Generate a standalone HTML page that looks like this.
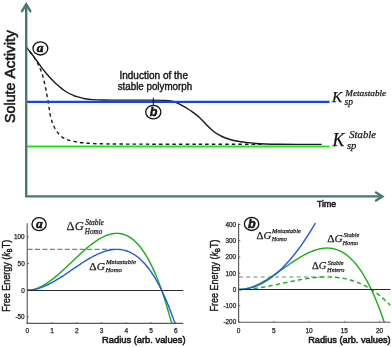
<!DOCTYPE html>
<html><head><meta charset="utf-8"><title>Solute activity and free energy</title>
<style>html,body{margin:0;padding:0;background:#fff;}svg{display:block;} text.h{stroke:#1a1a1a;stroke-width:.55px;} text.k{fill:#222;stroke:#222;stroke-width:.25px;} text.bb{stroke:#111;stroke-width:.5px;} text.y{stroke:#1a1a1a;stroke-width:.4px;} text.s{stroke:#1a1a1a;stroke-width:.25px;}</style></head>
<body>
<svg width="392" height="347" viewBox="0 0 392 347">
<rect width="392" height="347" fill="#fff"/>
<g fill="#111">
<path d="M26.70,47.60 C27.25,48.30 28.85,50.30 30.00,51.80 C31.15,53.30 32.52,55.07 33.60,56.60 C34.68,58.13 35.63,59.47 36.50,61.00 C37.37,62.53 38.08,64.27 38.80,65.80 C39.52,67.33 40.22,68.77 40.80,70.20 C41.38,71.63 41.82,72.85 42.30,74.40 C42.78,75.95 43.27,77.77 43.70,79.50 C44.13,81.23 44.52,83.05 44.90,84.80 C45.28,86.55 45.68,88.38 46.00,90.00 C46.32,91.62 46.50,93.00 46.80,94.50 C47.10,96.00 47.48,97.18 47.80,99.00 C48.12,100.82 48.42,103.47 48.70,105.40 C48.98,107.33 49.22,108.87 49.50,110.60 C49.78,112.33 50.05,114.15 50.40,115.80 C50.75,117.45 51.17,119.07 51.60,120.50 C52.03,121.93 52.43,123.07 53.00,124.40 C53.57,125.73 54.28,127.20 55.00,128.50 C55.72,129.80 56.50,131.12 57.30,132.20 C58.10,133.28 58.93,134.15 59.80,135.00 C60.67,135.85 61.50,136.63 62.50,137.30 C63.50,137.97 64.65,138.48 65.80,139.00 C66.95,139.52 68.12,140.00 69.40,140.40 C70.68,140.80 72.07,141.10 73.50,141.40 C74.93,141.70 76.42,141.97 78.00,142.20 C79.58,142.43 81.27,142.62 83.00,142.80 C84.73,142.98 85.57,143.13 88.40,143.30 C91.23,143.47 93.07,143.67 100.00,143.80 C106.93,143.93 113.33,144.02 130.00,144.10 C146.67,144.18 178.00,144.27 200.00,144.30 C222.00,144.33 251.67,144.30 262.00,144.30" fill="none" stroke="#1a1a1a" stroke-width="1.4" stroke-dasharray="3.5 3.1" stroke-dashoffset="-4.8"/>
<path d="M26.70,47.60 C27.25,48.30 28.85,50.33 30.00,51.80 C31.15,53.27 32.27,54.63 33.60,56.40 C34.93,58.17 36.55,60.42 38.00,62.40 C39.45,64.38 40.80,66.32 42.30,68.30 C43.80,70.28 45.55,72.55 47.00,74.30 C48.45,76.05 49.58,77.32 51.00,78.80 C52.42,80.28 54.07,81.87 55.50,83.20 C56.93,84.53 58.18,85.62 59.60,86.80 C61.02,87.98 62.55,89.27 64.00,90.30 C65.45,91.33 66.80,92.18 68.30,93.00 C69.80,93.82 71.55,94.58 73.00,95.20 C74.45,95.82 75.00,96.12 77.00,96.70 C79.00,97.28 82.33,98.22 85.00,98.70 C87.67,99.18 90.00,99.38 93.00,99.60 C96.00,99.82 99.33,99.92 103.00,100.00 C106.67,100.08 110.50,100.08 115.00,100.10 C119.50,100.12 124.17,100.10 130.00,100.10 C135.83,100.10 144.17,100.05 150.00,100.10 C155.83,100.15 161.33,100.22 165.00,100.40 C168.67,100.58 169.83,100.72 172.00,101.20 C174.17,101.68 176.13,102.47 178.00,103.30 C179.87,104.13 181.53,105.25 183.20,106.20 C184.87,107.15 186.53,108.10 188.00,109.00 C189.47,109.90 190.67,110.67 192.00,111.60 C193.33,112.53 194.67,113.53 196.00,114.60 C197.33,115.67 198.83,116.93 200.00,118.00 C201.17,119.07 201.92,119.87 203.00,121.00 C204.08,122.13 205.28,123.53 206.50,124.80 C207.72,126.07 209.05,127.43 210.30,128.60 C211.55,129.77 212.72,130.83 214.00,131.80 C215.28,132.77 216.67,133.62 218.00,134.40 C219.33,135.18 220.73,135.90 222.00,136.50 C223.27,137.10 224.27,137.50 225.60,138.00 C226.93,138.50 228.43,139.03 230.00,139.50 C231.57,139.97 233.17,140.42 235.00,140.80 C236.83,141.18 238.83,141.50 241.00,141.80 C243.17,142.10 245.50,142.32 248.00,142.60 C250.50,142.88 253.17,143.27 256.00,143.50 C258.83,143.73 261.00,143.87 265.00,144.00 C269.00,144.13 274.17,144.23 280.00,144.30 C285.83,144.37 293.07,144.38 300.00,144.40 C306.93,144.42 318.00,144.40 321.60,144.40" fill="none" stroke="#1a1a1a" stroke-width="1.4"/>
<line x1="27" y1="146.3" x2="329.5" y2="146.3" stroke="#0cf00c" stroke-width="1.7"/>
<line x1="27" y1="101.9" x2="329.5" y2="101.9" stroke="#1244f2" stroke-width="2.1"/>
<path d="M26.2,4.5 L26.2,196.4 L381,196.4" fill="none" stroke="#4a7676" stroke-width="2.4"/>
<path d="M22,11.2 L26.2,4.3 L30.4,11.2" fill="none" stroke="#4a7676" stroke-width="2.4" stroke-linejoin="miter" stroke-linecap="round"/>
<path d="M376,192.4 L382.4,196.4 L376,200.4" fill="none" stroke="#4a7676" stroke-width="2.4" stroke-linejoin="miter" stroke-linecap="round"/>
<ellipse cx="40.4" cy="48.4" rx="7.4" ry="6.6" fill="#fff" stroke="#111" stroke-width="1.3"/>
<text x="40.2" y="52.3" text-anchor="middle" class="bb" font-family="Liberation Serif" font-weight="bold" font-style="italic" font-size="13.5">a</text>
<line x1="153.3" y1="97.6" x2="153.3" y2="105.2" stroke="#111" stroke-width="1"/>
<ellipse cx="153.3" cy="112.1" rx="7.6" ry="6.8" fill="#fff" stroke="#111" stroke-width="1.3"/>
<text x="153.5" y="116.3" text-anchor="middle" class="bb" font-family="Liberation Sans" font-weight="bold" font-style="italic" font-size="12.5">b</text>
<text transform="translate(14.85,122.9) rotate(-90)" class="h" font-family="Liberation Sans" font-size="14.4" textLength="40.4" lengthAdjust="spacingAndGlyphs">Solute</text><text transform="translate(14.85,78.4) rotate(-90)" class="h" font-family="Liberation Sans" font-size="14.4" textLength="48.4" lengthAdjust="spacingAndGlyphs">Activity</text>
<text x="119.4" y="78.8" class="y" font-family="Liberation Sans" font-size="10.4" textLength="68.6" lengthAdjust="spacingAndGlyphs">Induction of the</text>
<text x="117.7" y="90.3" class="y" font-family="Liberation Sans" font-size="10.4" textLength="74.4" lengthAdjust="spacingAndGlyphs">stable polymorph</text>
<text x="317" y="206.5" class="h" font-family="Liberation Sans" font-size="8.8" textLength="19.1" lengthAdjust="spacingAndGlyphs">Time</text>
<text x="332" y="101.8" class="s" font-family="Liberation Serif" font-style="italic" font-size="15.5">K</text>
<text x="345.3" y="95.9" class="s" font-family="Liberation Serif" font-style="italic" font-size="9" textLength="40.9" lengthAdjust="spacingAndGlyphs">Metastable</text>
<text x="344.6" y="105" class="s" font-family="Liberation Serif" font-style="italic" font-size="10.2" textLength="8.4" lengthAdjust="spacingAndGlyphs">sp</text>
<text x="332.4" y="145.6" class="s" font-family="Liberation Serif" font-style="italic" font-size="17.8">K</text>
<text x="349.3" y="137.7" class="s" font-family="Liberation Serif" font-style="italic" font-size="9.6" textLength="26.6" lengthAdjust="spacingAndGlyphs">Stable</text>
<text x="347" y="148.7" class="s" font-family="Liberation Serif" font-style="italic" font-size="11" textLength="9.4" lengthAdjust="spacingAndGlyphs">sp</text>
</g>
<g fill="#1a1a1a">
<line x1="27.5" y1="249.35" x2="116.30" y2="249.35" stroke="#6f8585" stroke-width="1.2" stroke-dasharray="5 2.45"/>
<path d="M27.20,290.20 L28.44,290.17 L29.68,290.07 L30.91,289.92 L32.15,289.70 L33.39,289.42 L34.62,289.09 L35.86,288.71 L37.10,288.27 L38.34,287.78 L39.57,287.24 L40.81,286.66 L42.05,286.03 L43.29,285.36 L44.53,284.64 L45.76,283.89 L47.00,283.10 L48.24,282.27 L49.48,281.40 L50.71,280.51 L51.95,279.58 L53.19,278.62 L54.43,277.64 L55.66,276.63 L56.90,275.60 L58.14,274.54 L59.38,273.46 L60.61,272.37 L61.85,271.26 L63.09,270.14 L64.33,269.00 L65.56,267.85 L66.80,266.69 L68.04,265.53 L69.28,264.35 L70.51,263.18 L71.75,262.00 L72.99,260.82 L74.23,259.65 L75.46,258.47 L76.70,257.30 L77.94,256.14 L79.18,254.99 L80.41,253.85 L81.65,252.72 L82.89,251.60 L84.12,250.50 L85.36,249.42 L86.60,248.35 L87.84,247.31 L89.07,246.29 L90.31,245.30 L91.55,244.33 L92.79,243.39 L94.02,242.48 L95.26,241.60 L96.50,240.76 L97.74,239.95 L98.97,239.18 L100.21,238.45 L101.45,237.76 L102.69,237.12 L103.92,236.51 L105.16,235.96 L106.40,235.45 L107.64,234.99 L108.87,234.58 L110.11,234.23 L111.35,233.93 L112.59,233.69 L113.82,233.51 L115.06,233.39 L116.30,233.33 L117.54,233.34 L118.77,233.41 L120.01,233.55 L121.25,233.76 L122.49,234.05 L123.72,234.40 L124.96,234.83 L126.20,235.34 L127.44,235.93 L128.67,236.59 L129.91,237.34 L131.15,238.18 L132.39,239.10 L133.62,240.10 L134.86,241.20 L136.10,242.39 L137.34,243.67 L138.57,245.05 L139.81,246.52 L141.05,248.09 L142.29,249.76 L143.52,251.54 L144.76,253.41 L146.00,255.40 L147.24,257.49 L148.47,259.69 L149.71,262.00 L150.95,264.42 L152.19,266.96 L153.42,269.62 L154.66,272.39 L155.90,275.29 L157.14,278.30 L158.37,281.44 L159.61,284.71 L160.85,288.10 L162.09,291.62 L163.32,295.28 L164.56,299.06 L165.80,302.98 L167.04,307.04 L168.27,311.23 L169.51,315.57 L170.75,320.04 L171.99,323.60" fill="none" stroke="#16b016" stroke-width="1.4"/>
<path d="M27.20,290.20 L28.44,290.18 L29.68,290.11 L30.91,290.00 L32.15,289.84 L33.39,289.64 L34.62,289.40 L35.86,289.13 L37.10,288.81 L38.34,288.46 L39.57,288.08 L40.81,287.66 L42.05,287.21 L43.29,286.72 L44.53,286.21 L45.76,285.67 L47.00,285.10 L48.24,284.50 L49.48,283.88 L50.71,283.24 L51.95,282.57 L53.19,281.88 L54.43,281.18 L55.66,280.45 L56.90,279.71 L58.14,278.95 L59.38,278.18 L60.61,277.39 L61.85,276.60 L63.09,275.79 L64.33,274.97 L65.56,274.15 L66.80,273.31 L68.04,272.48 L69.28,271.63 L70.51,270.79 L71.75,269.94 L72.99,269.10 L74.23,268.25 L75.46,267.41 L76.70,266.57 L77.94,265.74 L79.18,264.91 L80.41,264.09 L81.65,263.28 L82.89,262.47 L84.12,261.68 L85.36,260.91 L86.60,260.14 L87.84,259.39 L89.07,258.66 L90.31,257.95 L91.55,257.25 L92.79,256.58 L94.02,255.92 L95.26,255.29 L96.50,254.69 L97.74,254.11 L98.97,253.55 L100.21,253.03 L101.45,252.53 L102.69,252.07 L103.92,251.64 L105.16,251.24 L106.40,250.87 L107.64,250.54 L108.87,250.25 L110.11,250.00 L111.35,249.78 L112.59,249.61 L113.82,249.48 L115.06,249.39 L116.30,249.35 L117.54,249.36 L118.77,249.41 L120.01,249.51 L121.25,249.66 L122.49,249.86 L123.72,250.12 L124.96,250.43 L126.20,250.79 L127.44,251.22 L128.67,251.69 L129.91,252.23 L131.15,252.83 L132.39,253.49 L133.62,254.21 L134.86,255.00 L136.10,255.86 L137.34,256.78 L138.57,257.76 L139.81,258.82 L141.05,259.95 L142.29,261.15 L143.52,262.43 L144.76,263.78 L146.00,265.20 L147.24,266.70 L148.47,268.28 L149.71,269.94 L150.95,271.69 L152.19,273.51 L153.42,275.42 L154.66,277.41 L155.90,279.49 L157.14,281.66 L158.37,283.91 L159.61,286.26 L160.85,288.69 L162.09,291.22 L163.32,293.85 L164.56,296.57 L165.80,299.38 L167.04,302.30 L168.27,305.31 L169.51,308.42 L170.75,311.64 L171.99,314.96 L173.22,318.38 L174.46,321.91 L175.70,323.60" fill="none" stroke="#2255f2" stroke-width="1.4"/>
<line x1="27.2" y1="290.45" x2="183.3" y2="290.45" stroke="#2a2a2a" stroke-width="1.1"/>
<path d="M27.2,223.3 L27.2,323.3 L183.3,323.3" fill="none" stroke="#5a5a5a" stroke-width="1.15"/>
<line x1="27.2" y1="236.80" x2="28.9" y2="236.80" stroke="#444" stroke-width="0.8"/>
<text x="24.7" y="239.20" text-anchor="end" class="k" font-family="Liberation Sans" font-size="6.4">100</text>
<line x1="27.2" y1="263.50" x2="28.9" y2="263.50" stroke="#444" stroke-width="0.8"/>
<text x="24.7" y="265.90" text-anchor="end" class="k" font-family="Liberation Sans" font-size="6.4">50</text>
<line x1="27.2" y1="290.20" x2="28.9" y2="290.20" stroke="#444" stroke-width="0.8"/>
<text x="24.7" y="292.60" text-anchor="end" class="k" font-family="Liberation Sans" font-size="6.4">0</text>
<line x1="27.2" y1="316.90" x2="28.9" y2="316.90" stroke="#444" stroke-width="0.8"/>
<text x="24.7" y="319.30" text-anchor="end" class="k" font-family="Liberation Sans" font-size="6.4">-50</text>
<line x1="27.20" y1="323.3" x2="27.20" y2="322" stroke="#5a5a5a" stroke-width="0.8"/>
<text x="27.20" y="332.8" text-anchor="middle" class="k" font-family="Liberation Sans" font-size="6.5">0</text>
<line x1="51.95" y1="323.3" x2="51.95" y2="322" stroke="#5a5a5a" stroke-width="0.8"/>
<text x="51.95" y="332.8" text-anchor="middle" class="k" font-family="Liberation Sans" font-size="6.5">1</text>
<line x1="76.70" y1="323.3" x2="76.70" y2="322" stroke="#5a5a5a" stroke-width="0.8"/>
<text x="76.70" y="332.8" text-anchor="middle" class="k" font-family="Liberation Sans" font-size="6.5">2</text>
<line x1="101.45" y1="323.3" x2="101.45" y2="322" stroke="#5a5a5a" stroke-width="0.8"/>
<text x="101.45" y="332.8" text-anchor="middle" class="k" font-family="Liberation Sans" font-size="6.5">3</text>
<line x1="126.20" y1="323.3" x2="126.20" y2="322" stroke="#5a5a5a" stroke-width="0.8"/>
<text x="126.20" y="332.8" text-anchor="middle" class="k" font-family="Liberation Sans" font-size="6.5">4</text>
<line x1="150.95" y1="323.3" x2="150.95" y2="322" stroke="#5a5a5a" stroke-width="0.8"/>
<text x="150.95" y="332.8" text-anchor="middle" class="k" font-family="Liberation Sans" font-size="6.5">5</text>
<line x1="175.70" y1="323.3" x2="175.70" y2="322" stroke="#5a5a5a" stroke-width="0.8"/>
<text x="175.70" y="332.8" text-anchor="middle" class="k" font-family="Liberation Sans" font-size="6.5">6</text>
<text x="102.0" y="343.3" class="h" font-family="Liberation Sans" font-size="9.4" textLength="83.6" lengthAdjust="spacingAndGlyphs">Radius (arb. values)</text>
<text transform="translate(9.8,311.8) rotate(-90)" class="y" font-family="Liberation Sans" font-size="10" textLength="72" lengthAdjust="spacingAndGlyphs">Free Energy (<tspan font-style="italic">k</tspan><tspan font-size="6.5" dy="2">B</tspan><tspan dy="-2">T)</tspan></text>
<ellipse cx="39.1" cy="224.2" rx="7.1" ry="6.5" fill="#fff" stroke="#111" stroke-width="1.3"/>
<text x="39.4" y="228.2" text-anchor="middle" class="bb" font-family="Liberation Serif" font-weight="bold" font-style="italic" font-size="13.5">a</text>
<text x="66.6" y="230.1" class="s" font-family="Liberation Serif" font-size="12.5">&#916;<tspan font-style="italic">G</tspan></text><text x="85.2" y="224.6" class="s" font-family="Liberation Serif" font-style="italic" font-size="8.2" textLength="18.7" lengthAdjust="spacingAndGlyphs">Stable</text><text x="84.8" y="233.9" class="s" font-family="Liberation Serif" font-style="italic" font-size="8.2" textLength="17.5" lengthAdjust="spacingAndGlyphs">Homo</text>
<text x="89.35" y="269.6" class="s" font-family="Liberation Serif" font-size="11.4">&#916;<tspan font-style="italic">G</tspan></text><text x="105.9" y="264.2" class="s" font-family="Liberation Serif" font-style="italic" font-size="6.6" textLength="30.0" lengthAdjust="spacingAndGlyphs">Metastable</text><text x="105.5" y="272.0" class="s" font-family="Liberation Serif" font-style="italic" font-size="6.8" textLength="16.5" lengthAdjust="spacingAndGlyphs">Homo</text>
<line x1="239" y1="276.99" x2="325.31" y2="276.99" stroke="#6f8585" stroke-width="1.2" stroke-dasharray="4 3.2"/>
<path d="M238.60,289.50 L239.31,289.50 L240.01,289.49 L240.72,289.48 L241.42,289.46 L242.12,289.44 L242.83,289.42 L243.53,289.39 L244.24,289.35 L244.94,289.31 L245.65,289.27 L246.35,289.23 L247.06,289.18 L247.76,289.12 L248.47,289.06 L249.17,289.00 L249.88,288.94 L250.59,288.87 L251.29,288.80 L252.00,288.72 L252.70,288.64 L253.41,288.56 L254.11,288.47 L254.81,288.39 L255.52,288.29 L256.23,288.20 L256.93,288.10 L257.63,288.00 L258.34,287.90 L259.05,287.79 L259.75,287.69 L260.45,287.57 L261.16,287.46 L261.87,287.35 L262.57,287.23 L263.27,287.11 L263.98,286.99 L264.69,286.86 L265.39,286.74 L266.10,286.61 L266.80,286.48 L267.50,286.35 L268.21,286.21 L268.92,286.08 L269.62,285.94 L270.32,285.80 L271.03,285.66 L271.74,285.52 L272.44,285.38 L273.14,285.24 L273.85,285.10 L274.55,284.95 L275.26,284.81 L275.96,284.66 L276.67,284.51 L277.38,284.36 L278.08,284.22 L278.78,284.07 L279.49,283.92 L280.19,283.77 L280.90,283.62 L281.60,283.47 L282.31,283.32 L283.01,283.17 L283.72,283.01 L284.42,282.86 L285.13,282.71 L285.83,282.56 L286.54,282.41 L287.24,282.27 L287.95,282.12 L288.65,281.97 L289.36,281.82 L290.06,281.67 L290.77,281.53 L291.47,281.38 L292.18,281.24 L292.88,281.10 L293.59,280.95 L294.29,280.81 L295.00,280.67 L295.70,280.53 L296.41,280.40 L297.11,280.26 L297.82,280.13 L298.52,279.99 L299.23,279.86 L299.93,279.73 L300.64,279.61 L301.34,279.48 L302.05,279.36 L302.75,279.24 L303.46,279.12 L304.16,279.00 L304.87,278.89 L305.57,278.78 L306.28,278.67 L306.98,278.56 L307.69,278.46 L308.39,278.35 L309.10,278.25 L309.80,278.16 L310.51,278.07 L311.21,277.98 L311.92,277.89 L312.62,277.80 L313.33,277.72 L314.03,277.65 L314.74,277.57 L315.44,277.50 L316.15,277.44 L316.85,277.37 L317.56,277.31 L318.26,277.26 L318.97,277.20 L319.67,277.16 L320.38,277.11 L321.08,277.07 L321.79,277.04 L322.49,277.00 L323.20,276.98 L323.90,276.95 L324.61,276.94 L325.31,276.92 L326.02,276.91 L326.72,276.91 L327.43,276.91 L328.13,276.91 L328.84,276.92 L329.54,276.94 L330.25,276.96 L330.95,276.98 L331.66,277.01 L332.36,277.05 L333.07,277.09 L333.77,277.13 L334.48,277.19 L335.18,277.24 L335.89,277.31 L336.59,277.37 L337.30,277.45 L338.00,277.53 L338.71,277.62 L339.41,277.71 L340.12,277.81 L340.82,277.91 L341.53,278.02 L342.23,278.14 L342.94,278.27 L343.64,278.40 L344.35,278.53 L345.05,278.68 L345.76,278.83 L346.46,278.99 L347.17,279.15 L347.87,279.32 L348.58,279.50 L349.28,279.68 L349.99,279.88 L350.69,280.08 L351.40,280.28 L352.10,280.50 L352.81,280.72 L353.51,280.95 L354.22,281.19 L354.92,281.43 L355.63,281.69 L356.33,281.95 L357.04,282.22 L357.74,282.49 L358.45,282.78 L359.15,283.07 L359.86,283.37 L360.56,283.68 L361.27,284.00 L361.97,284.33 L362.68,284.66 L363.38,285.01 L364.09,285.36 L364.79,285.72 L365.50,286.09 L366.20,286.47 L366.91,286.86 L367.61,287.26 L368.32,287.67 L369.02,288.08 L369.73,288.51 L370.43,288.94 L371.14,289.39 L371.84,289.84 L372.55,290.31 L373.25,290.78 L373.96,291.26 L374.67,291.75 L375.37,292.26 L376.08,292.77 L376.78,293.29 L377.49,293.83 L378.19,294.37 L378.90,294.92 L379.60,295.49 L380.31,296.06 L381.01,296.65 L381.72,297.25 L382.42,297.85 L383.13,298.47 L383.83,299.10 L384.54,299.74 L385.24,300.39 L385.95,301.05 L386.65,301.72 L387.36,302.41 L388.06,303.10 L388.77,303.81 L389.47,304.53 L390.18,305.26" fill="none" stroke="#16b016" stroke-width="1.4" stroke-dasharray="4.4 3.1"/>
<path d="M238.60,289.50 L239.31,289.49 L240.01,289.47 L240.72,289.43 L241.42,289.38 L242.12,289.31 L242.83,289.22 L243.53,289.13 L244.24,289.02 L244.94,288.89 L245.65,288.75 L246.35,288.60 L247.06,288.44 L247.76,288.26 L248.47,288.07 L249.17,287.87 L249.88,287.65 L250.59,287.42 L251.29,287.19 L252.00,286.94 L252.70,286.68 L253.41,286.41 L254.11,286.13 L254.81,285.83 L255.52,285.53 L256.23,285.22 L256.93,284.90 L257.63,284.57 L258.34,284.23 L259.05,283.88 L259.75,283.53 L260.45,283.16 L261.16,282.79 L261.87,282.41 L262.57,282.02 L263.27,281.63 L263.98,281.23 L264.69,280.82 L265.39,280.40 L266.10,279.98 L266.80,279.55 L267.50,279.12 L268.21,278.68 L268.92,278.24 L269.62,277.79 L270.32,277.34 L271.03,276.88 L271.74,276.42 L272.44,275.95 L273.14,275.48 L273.85,275.01 L274.55,274.53 L275.26,274.05 L275.96,273.57 L276.67,273.09 L277.38,272.60 L278.08,272.11 L278.78,271.62 L279.49,271.13 L280.19,270.64 L280.90,270.14 L281.60,269.65 L282.31,269.15 L283.01,268.66 L283.72,268.16 L284.42,267.67 L285.13,267.17 L285.83,266.68 L286.54,266.19 L287.24,265.70 L287.95,265.21 L288.65,264.72 L289.36,264.23 L290.06,263.75 L290.77,263.27 L291.47,262.79 L292.18,262.32 L292.88,261.84 L293.59,261.38 L294.29,260.91 L295.00,260.45 L295.70,260.00 L296.41,259.55 L297.11,259.10 L297.82,258.66 L298.52,258.22 L299.23,257.79 L299.93,257.37 L300.64,256.95 L301.34,256.54 L302.05,256.13 L302.75,255.74 L303.46,255.34 L304.16,254.96 L304.87,254.58 L305.57,254.22 L306.28,253.85 L306.98,253.50 L307.69,253.16 L308.39,252.82 L309.10,252.50 L309.80,252.18 L310.51,251.88 L311.21,251.58 L311.92,251.29 L312.62,251.02 L313.33,250.75 L314.03,250.50 L314.74,250.25 L315.44,250.02 L316.15,249.80 L316.85,249.59 L317.56,249.40 L318.26,249.21 L318.97,249.04 L319.67,248.88 L320.38,248.74 L321.08,248.61 L321.79,248.49 L322.49,248.38 L323.20,248.29 L323.90,248.22 L324.61,248.16 L325.31,248.11 L326.02,248.08 L326.72,248.06 L327.43,248.06 L328.13,248.08 L328.84,248.11 L329.54,248.16 L330.25,248.23 L330.95,248.31 L331.66,248.41 L332.36,248.52 L333.07,248.66 L333.77,248.81 L334.48,248.98 L335.18,249.17 L335.89,249.38 L336.59,249.60 L337.30,249.85 L338.00,250.11 L338.71,250.40 L339.41,250.70 L340.12,251.03 L340.82,251.37 L341.53,251.74 L342.23,252.13 L342.94,252.54 L343.64,252.97 L344.35,253.42 L345.05,253.89 L345.76,254.39 L346.46,254.90 L347.17,255.44 L347.87,256.01 L348.58,256.59 L349.28,257.20 L349.99,257.84 L350.69,258.50 L351.40,259.18 L352.10,259.89 L352.81,260.62 L353.51,261.37 L354.22,262.15 L354.92,262.96 L355.63,263.79 L356.33,264.65 L357.04,265.54 L357.74,266.45 L358.45,267.39 L359.15,268.35 L359.86,269.34 L360.56,270.36 L361.27,271.41 L361.97,272.49 L362.68,273.59 L363.38,274.72 L364.09,275.88 L364.79,277.07 L365.50,278.29 L366.20,279.54 L366.91,280.82 L367.61,282.13 L368.32,283.47 L369.02,284.84 L369.73,286.24 L370.43,287.67 L371.14,289.13 L371.84,290.62 L372.55,292.15 L373.25,293.71 L373.96,295.30 L374.67,296.92 L375.37,298.57 L376.08,300.26 L376.78,301.98 L377.49,303.74 L378.19,305.53 L378.90,307.35 L379.60,309.21 L380.31,311.10 L381.01,313.02 L381.72,314.98 L382.42,316.98 L383.13,319.01 L383.83,321.08 L384.54,322.20" fill="none" stroke="#16b016" stroke-width="1.4"/>
<path d="M238.60,289.50 L239.31,289.49 L240.01,289.48 L240.72,289.45 L241.42,289.41 L242.12,289.36 L242.83,289.30 L243.53,289.23 L244.24,289.14 L244.94,289.05 L245.65,288.94 L246.35,288.82 L247.06,288.69 L247.76,288.55 L248.47,288.40 L249.17,288.24 L249.88,288.06 L250.59,287.88 L251.29,287.68 L252.00,287.48 L252.70,287.26 L253.41,287.03 L254.11,286.79 L254.81,286.53 L255.52,286.27 L256.23,286.00 L256.93,285.71 L257.63,285.41 L258.34,285.10 L259.05,284.79 L259.75,284.45 L260.45,284.11 L261.16,283.76 L261.87,283.39 L262.57,283.02 L263.27,282.63 L263.98,282.23 L264.69,281.83 L265.39,281.40 L266.10,280.97 L266.80,280.53 L267.50,280.08 L268.21,279.61 L268.92,279.13 L269.62,278.65 L270.32,278.15 L271.03,277.64 L271.74,277.12 L272.44,276.58 L273.14,276.04 L273.85,275.48 L274.55,274.92 L275.26,274.34 L275.96,273.75 L276.67,273.15 L277.38,272.54 L278.08,271.92 L278.78,271.29 L279.49,270.64 L280.19,269.98 L280.90,269.32 L281.60,268.64 L282.31,267.95 L283.01,267.25 L283.72,266.54 L284.42,265.81 L285.13,265.08 L285.83,264.33 L286.54,263.58 L287.24,262.81 L287.95,262.03 L288.65,261.24 L289.36,260.44 L290.06,259.62 L290.77,258.80 L291.47,257.96 L292.18,257.12 L292.88,256.26 L293.59,255.39 L294.29,254.51 L295.00,253.62 L295.70,252.72 L296.41,251.80 L297.11,250.88 L297.82,249.94 L298.52,248.99 L299.23,248.04 L299.93,247.07 L300.64,246.09 L301.34,245.09 L302.05,244.09 L302.75,243.07 L303.46,242.05 L304.16,241.01 L304.87,239.96 L305.57,238.90 L306.28,237.83 L306.98,236.75 L307.69,235.66 L308.39,234.55 L309.10,233.44 L309.80,232.31 L310.51,231.17 L311.21,230.02 L311.92,228.86 L312.62,227.69 L313.33,226.51 L314.03,225.31 L314.74,224.11 L315.44,223.00" fill="none" stroke="#2255f2" stroke-width="1.4"/>
<line x1="238.6" y1="289.50" x2="390.4" y2="289.50" stroke="#262626" stroke-width="1.2"/>
<path d="M238.6,223.5 L238.6,322.2 L390.4,322.2" fill="none" stroke="#5a5a5a" stroke-width="1.15"/>
<line x1="238.6" y1="224.50" x2="240.3" y2="224.50" stroke="#444" stroke-width="0.8"/>
<text x="236.2" y="226.90" text-anchor="end" class="k" font-family="Liberation Sans" font-size="6.4">400</text>
<line x1="238.6" y1="240.75" x2="240.3" y2="240.75" stroke="#444" stroke-width="0.8"/>
<text x="236.2" y="243.15" text-anchor="end" class="k" font-family="Liberation Sans" font-size="6.4">300</text>
<line x1="238.6" y1="257.00" x2="240.3" y2="257.00" stroke="#444" stroke-width="0.8"/>
<text x="236.2" y="259.40" text-anchor="end" class="k" font-family="Liberation Sans" font-size="6.4">200</text>
<line x1="238.6" y1="273.25" x2="240.3" y2="273.25" stroke="#444" stroke-width="0.8"/>
<text x="236.2" y="275.65" text-anchor="end" class="k" font-family="Liberation Sans" font-size="6.4">100</text>
<line x1="238.6" y1="289.50" x2="240.3" y2="289.50" stroke="#444" stroke-width="0.8"/>
<text x="236.2" y="291.90" text-anchor="end" class="k" font-family="Liberation Sans" font-size="6.4">0</text>
<line x1="238.6" y1="305.75" x2="240.3" y2="305.75" stroke="#444" stroke-width="0.8"/>
<text x="236.2" y="308.15" text-anchor="end" class="k" font-family="Liberation Sans" font-size="6.4">-100</text>
<line x1="238.6" y1="322.00" x2="240.3" y2="322.00" stroke="#444" stroke-width="0.8"/>
<text x="236.2" y="324.40" text-anchor="end" class="k" font-family="Liberation Sans" font-size="6.4">-200</text>
<line x1="238.60" y1="322.2" x2="238.60" y2="320.9" stroke="#5a5a5a" stroke-width="0.8"/>
<text x="238.60" y="332.8" text-anchor="middle" class="k" font-family="Liberation Sans" font-size="6.5">0</text>
<line x1="273.85" y1="322.2" x2="273.85" y2="320.9" stroke="#5a5a5a" stroke-width="0.8"/>
<text x="273.85" y="332.8" text-anchor="middle" class="k" font-family="Liberation Sans" font-size="6.5">5</text>
<line x1="309.10" y1="322.2" x2="309.10" y2="320.9" stroke="#5a5a5a" stroke-width="0.8"/>
<text x="309.10" y="332.8" text-anchor="middle" class="k" font-family="Liberation Sans" font-size="6.5">10</text>
<line x1="344.35" y1="322.2" x2="344.35" y2="320.9" stroke="#5a5a5a" stroke-width="0.8"/>
<text x="344.35" y="332.8" text-anchor="middle" class="k" font-family="Liberation Sans" font-size="6.5">15</text>
<line x1="379.60" y1="322.2" x2="379.60" y2="320.9" stroke="#5a5a5a" stroke-width="0.8"/>
<text x="379.60" y="332.8" text-anchor="middle" class="k" font-family="Liberation Sans" font-size="6.5">20</text>
<text x="308.2" y="343.3" class="h" font-family="Liberation Sans" font-size="9.4" textLength="82.5" lengthAdjust="spacingAndGlyphs">Radius (arb. values)</text>
<text transform="translate(217.8,311.5) rotate(-90)" class="y" font-family="Liberation Sans" font-size="10" textLength="72" lengthAdjust="spacingAndGlyphs">Free Energy (<tspan font-style="italic">k</tspan><tspan font-size="6.5" dy="2">B</tspan><tspan dy="-2">T)</tspan></text>
<ellipse cx="251.6" cy="223.9" rx="7.2" ry="6.6" fill="#fff" stroke="#111" stroke-width="1.3"/>
<text x="251.9" y="228.3" text-anchor="middle" class="bb" font-family="Liberation Sans" font-weight="bold" font-style="italic" font-size="12.5">b</text>
<text x="256.5" y="238.5" class="s" font-family="Liberation Serif" font-size="10.8">&#916;<tspan font-style="italic">G</tspan></text><text x="272.1" y="233.3" class="s" font-family="Liberation Serif" font-style="italic" font-size="6.2" textLength="28.8" lengthAdjust="spacingAndGlyphs">Metastable</text><text x="271.7" y="241.2" class="s" font-family="Liberation Serif" font-style="italic" font-size="6.5" textLength="15.1" lengthAdjust="spacingAndGlyphs">Homo</text>
<text x="327.25" y="242.0" class="s" font-family="Liberation Serif" font-size="11.4">&#916;<tspan font-style="italic">G</tspan></text><text x="343.4" y="236.7" class="s" font-family="Liberation Serif" font-style="italic" font-size="6.8" textLength="16.1" lengthAdjust="spacingAndGlyphs">Stable</text><text x="342.4" y="244.6" class="s" font-family="Liberation Serif" font-style="italic" font-size="7.0" textLength="15.7" lengthAdjust="spacingAndGlyphs">Homo</text>
<text x="312.0" y="269.3" class="s" font-family="Liberation Serif" font-size="10.5">&#916;<tspan font-style="italic">G</tspan></text><text x="327.8" y="265.0" class="s" font-family="Liberation Serif" font-style="italic" font-size="6.8" textLength="15.9" lengthAdjust="spacingAndGlyphs">Stable</text><text x="327.1" y="272.3" class="s" font-family="Liberation Serif" font-style="italic" font-size="6.6" textLength="17.4" lengthAdjust="spacingAndGlyphs">Hetero</text>
</g>
</svg>
</body></html>
